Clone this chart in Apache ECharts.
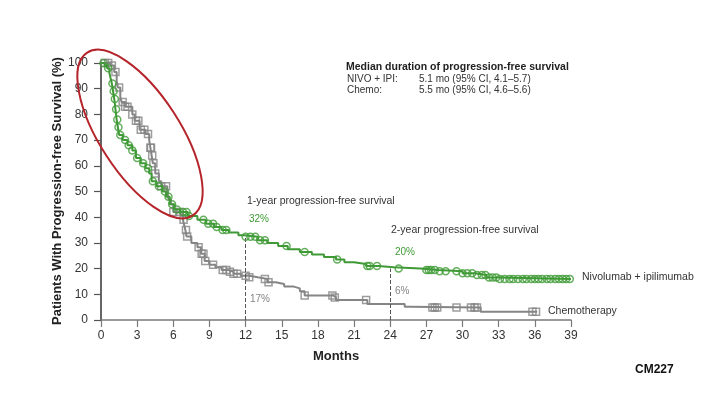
<!DOCTYPE html>
<html>
<head>
<meta charset="utf-8">
<script src="https://cdn.jsdelivr.net/npm/echarts@6/dist/echarts.min.js"></script>
<style>
  html, body { margin: 0; padding: 0; background: #fff; }
  #chart { width: 720px; height: 405px; }
</style>
</head>
<body>
<div id="chart"></div>
<script>
// Kaplan-Meier steps: [month, % progression-free after the event]
var nivoSteps = [
  [0, 100], [0.3, 99], [0.5, 98], [0.7, 96], [0.8, 94], [0.9, 92], [1.0, 89], [1.1, 86],
  [1.2, 82], [1.3, 78], [1.4, 75], [1.5, 72], [1.8, 70], [2.2, 68], [2.6, 66], [2.9, 63],
  [3.3, 61], [3.7, 59], [4.0, 57], [4.2, 54], [4.6, 52], [5.1, 50], [5.4, 48], [5.7, 45],
  [6.1, 43], [6.6, 42], [7.2, 40.5], [8.0, 39], [8.7, 37.5], [9.4, 36.2], [10.0, 35],
  [10.6, 34], [11.4, 33], [11.9, 32.4], [13.0, 31], [13.8, 30], [14.7, 28.8], [15.5, 27.5],
  [16.5, 26.5], [17.5, 25.5], [18.5, 24.5], [19.5, 23.5], [20.2, 22.5], [21.0, 21.8],
  [22.0, 21], [23.0, 20.5], [24.3, 20], [26.5, 19.5], [28.0, 19], [30.0, 18.2], [31.0, 17.5],
  [32.0, 16.5], [33.0, 16], [39.0, 16]
];
var chemoSteps = [
  [0, 100], [0.8, 99], [1.1, 96.5], [1.3, 93], [1.4, 90.5], [1.6, 87], [1.7, 84.8], [2.0, 83],
  [2.6, 80], [2.8, 77.5], [3.2, 74], [3.7, 72.4], [4.0, 70], [4.1, 67], [4.2, 64], [4.3, 61],
  [4.5, 57], [4.8, 54], [5.0, 52], [5.5, 50], [5.6, 47], [5.8, 45], [6.0, 42], [6.6, 41],
  [6.8, 39], [6.9, 37], [7.0, 35], [7.1, 32.5], [7.5, 30], [8.0, 28.3], [8.3, 25.8],
  [8.6, 23], [9.0, 21.5], [9.5, 20.5], [10.0, 19.5], [10.5, 18.8], [11.0, 18], [11.6, 17.2],
  [12.3, 16.6], [13.0, 16], [13.8, 14.7], [14.5, 14], [15.2, 13], [16.0, 12.3], [16.5, 11.2],
  [16.9, 9.5], [19.3, 8.8], [19.5, 7.8], [22.1, 6.2], [25.2, 5.2], [25.6, 4.9], [31.5, 3.2],
  [36.2, 3.2]
];
// censoring times (months)
var nivoCensored = [
  0.2, 0.6, 0.95, 1.05, 1.15, 1.25, 1.35, 1.45, 1.6, 2.0, 2.3, 2.6, 3.0, 3.5, 3.9, 4.3, 4.8,
  5.3, 5.6, 5.9, 6.3, 6.8, 7.1, 7.3, 8.5, 8.9, 9.3, 9.6, 10.1, 10.4, 12.0, 12.4, 12.8, 13.2,
  13.6, 15.4, 16.9, 19.6, 22.1, 22.3, 22.9, 24.7, 27.0, 27.2, 27.4, 27.7, 28.1, 28.6, 29.5,
  30.0, 30.4, 30.8, 31.2, 31.6, 31.9, 32.2, 32.5, 32.8, 33.1, 33.5, 33.9, 34.2, 34.6, 35.0,
  35.3, 35.7, 36.0, 36.3, 36.6, 37.0, 37.3, 37.7, 38.0, 38.3, 38.6, 38.9
];
var chemoCensored = [
  0.3, 0.6, 0.9, 1.2, 1.5, 1.8, 2.0, 2.2, 2.6, 2.9, 3.1, 3.3, 3.6, 3.9, 4.1, 4.15, 4.25, 4.35,
  4.5, 5.0, 5.4, 6.0, 6.5, 6.85, 7.05, 7.15, 8.1, 8.35, 8.5, 8.65, 9.3, 10.1, 10.4, 10.7,
  11.0, 11.3, 12.0, 12.3, 13.6, 13.9, 16.9, 19.2, 19.4, 22.0, 27.5, 27.7, 27.9, 29.5, 30.7,
  31.0, 31.2, 35.8, 36.1
];
var milestones = [[12, 32.4], [24, 20]];
var xTicks = { min: 0, max: 39, step: 3 };
var yTicks = { min: 0, max: 100, step: 10 };

var GREEN = '#3f9a36';
var GRAY = '#858585';
var FONT = 'Liberation Sans, Arial, sans-serif';

function levelAt(steps, t) {
  var s = steps[0][1];
  for (var i = 0; i < steps.length; i++) {
    if (steps[i][0] <= t) s = steps[i][1];
  }
  return s;
}
function marks(steps, times) {
  return times.map(function (t) { return [t, levelAt(steps, t)]; });
}

var chart = echarts.init(document.getElementById('chart'));
var txt = function (x, y, text, style) {
  return {
    type: 'text', left: x, top: y,
    style: Object.assign({ text: text, fill: '#333', font: '10px ' + FONT }, style || {})
  };
};

chart.setOption({
  animation: false,
  backgroundColor: '#fff',
  grid: { left: 101, right: 149, top: 63, bottom: 85 },
  xAxis: {
    type: 'value', min: xTicks.min, max: xTicks.max, interval: xTicks.step,
    name: 'Months', nameLocation: 'middle', nameGap: 30,
    nameTextStyle: { fontFamily: FONT, fontWeight: 'bold', fontSize: 13, color: '#222' },
    axisLine: { lineStyle: { color: '#7a7a7a', width: 1.5 } },
    axisTick: { length: 7, lineStyle: { color: '#7a7a7a', width: 1.2 } },
    axisLabel: { margin: 10, fontFamily: FONT, fontSize: 12, color: '#333' },
    splitLine: { show: false }
  },
  yAxis: {
    type: 'value', min: yTicks.min, max: yTicks.max, interval: yTicks.step,
    axisLine: { show: true, lineStyle: { color: '#333', width: 1.5 } },
    axisTick: { show: true, length: 7, lineStyle: { color: '#555', width: 1.2 } },
    axisLabel: { margin: 13, fontFamily: FONT, fontSize: 12, color: '#333' },
    splitLine: { show: false }
  },
  series: [
    {
      type: 'line', step: 'end', data: chemoSteps, showSymbol: false, z: 2,
      lineStyle: { color: GRAY, width: 2 }
    },
    {
      type: 'scatter', data: marks(chemoSteps, chemoCensored), symbol: 'rect', symbolSize: 7, z: 3,
      itemStyle: { color: 'rgba(255,255,255,0)', borderColor: GRAY, borderWidth: 1.5 }
    },
    {
      type: 'line', step: 'end', data: nivoSteps, showSymbol: false, z: 4,
      lineStyle: { color: GREEN, width: 2 },
      markLine: {
        silent: true, symbol: 'none', label: { show: false },
        lineStyle: { color: '#555', type: 'dashed', width: 1 },
        data: milestones.map(function (m) {
          return [{ coord: [m[0], 0] }, { coord: [m[0], m[1]] }];
        })
      }
    },
    {
      type: 'scatter', data: marks(nivoSteps, nivoCensored), symbol: 'circle', symbolSize: 7, z: 5,
      itemStyle: { color: 'rgba(255,255,255,0)', borderColor: GREEN, borderWidth: 1.5 }
    }
  ],
  graphic: [
    {
      type: 'text', x: 57, y: 191, rotation: Math.PI / 2,
      style: {
        text: 'Patients With Progression-free Survival (%)', fill: '#222',
        font: 'bold 13px ' + FONT, align: 'center', verticalAlign: 'middle'
      }
    },
    txt(346, 62, 'Median duration of progression-free survival', { font: 'bold 10.5px ' + FONT, fill: '#222' }),
    txt(347, 74, 'NIVO + IPI:'),
    txt(419, 74, '5.1 mo (95% CI, 4.1\u20135.7)'),
    txt(347, 85, 'Chemo:'),
    txt(419, 85, '5.5 mo (95% CI, 4.6\u20135.6)'),
    txt(247, 196, '1-year progression-free survival', { font: '10.5px ' + FONT }),
    txt(249, 214, '32%', { fill: GREEN }),
    txt(250, 294, '17%', { fill: GRAY }),
    txt(391, 225, '2-year progression-free survival', { font: '10.5px ' + FONT }),
    txt(395, 247, '20%', { fill: GREEN }),
    txt(395, 286, '6%', { fill: GRAY }),
    txt(582, 272, 'Nivolumab + ipilimumab', { font: '10.5px ' + FONT }),
    txt(548, 306, 'Chemotherapy', { font: '10.5px ' + FONT }),
    txt(635, 364, 'CM227', { font: 'bold 12px ' + FONT, fill: '#111' }),
    {
      type: 'ellipse', x: 140, y: 134, rotation: 33 * Math.PI / 180, silent: true, z: 100,
      shape: { cx: 0, cy: 0, rx: 40, ry: 97 },
      style: { fill: 'none', stroke: '#b5242a', lineWidth: 2 }
    }
  ]
});
</script>
</body>
</html>
